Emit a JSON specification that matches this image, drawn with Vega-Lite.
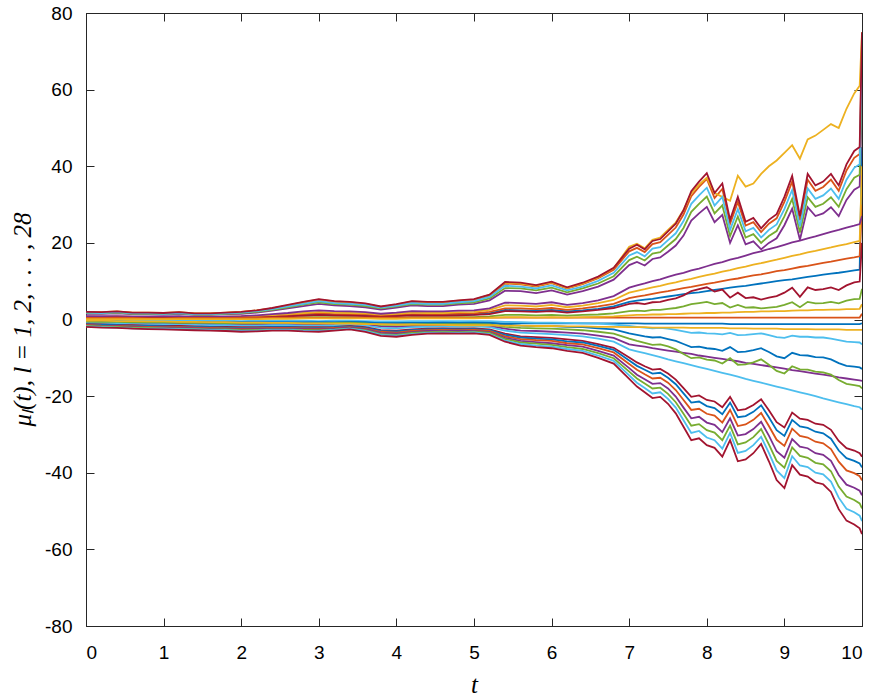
{
"$schema":"https://vega.github.io/schema/vega-lite/v6.json",
"width":776,"height":613,"autosize":"none",
"padding":{"left":86,"top":13,"right":11,"bottom":73},
"background":"white",
"data":{"values":[
{"t":0,"l1":0.5,"l2":1.9,"l3":2.0,"l4":1.5,"l5":1.7,"l6":1.8,"l7":2.0,"l8":-0.5,"l9":0.6,"l10":0.8,"l11":0.9,"l12":0.2,"l13":-0.2,"l14":0.4,"l15":-0.4,"l16":0.4,"l17":0.1,"l18":-0.8,"l19":-0.6,"l20":-1.0,"l21":-1.2,"l22":-1.3,"l23":-1.4,"l24":-0.3,"l25":-1.6,"l26":-1.7,"l27":-1.8,"l28":-1.9},
{"t":0.2,"l1":0.5,"l2":1.8,"l3":1.9,"l4":1.5,"l5":1.6,"l6":1.7,"l7":1.9,"l8":-0.6,"l9":0.6,"l10":0.7,"l11":0.9,"l12":0.2,"l13":-0.2,"l14":0.4,"l15":-0.5,"l16":0.4,"l17":0.1,"l18":-0.9,"l19":-0.7,"l20":-1.1,"l21":-1.3,"l22":-1.4,"l23":-1.6,"l24":-0.3,"l25":-1.7,"l26":-1.8,"l27":-2.0,"l28":-2.1},
{"t":0.4,"l1":0.5,"l2":2.0,"l3":2.1,"l4":1.6,"l5":1.8,"l6":1.9,"l7":2.1,"l8":-0.6,"l9":0.6,"l10":0.8,"l11":0.9,"l12":0.3,"l13":-0.2,"l14":0.5,"l15":-0.5,"l16":0.5,"l17":0.1,"l18":-0.9,"l19":-0.7,"l20":-1.1,"l21":-1.4,"l22":-1.5,"l23":-1.7,"l24":-0.4,"l25":-1.8,"l26":-1.9,"l27":-2.1,"l28":-2.2},
{"t":0.6,"l1":0.5,"l2":1.7,"l3":1.8,"l4":1.4,"l5":1.5,"l6":1.6,"l7":1.8,"l8":-0.7,"l9":0.5,"l10":0.7,"l11":0.8,"l12":0.2,"l13":-0.3,"l14":0.4,"l15":-0.6,"l16":0.4,"l17":0.1,"l18":-1.0,"l19":-0.8,"l20":-1.2,"l21":-1.5,"l22":-1.7,"l23":-1.8,"l24":-0.4,"l25":-2.0,"l26":-2.1,"l27":-2.3,"l28":-2.4},
{"t":0.8,"l1":0.5,"l2":1.7,"l3":1.8,"l4":1.4,"l5":1.5,"l6":1.6,"l7":1.8,"l8":-0.7,"l9":0.5,"l10":0.7,"l11":0.8,"l12":0.2,"l13":-0.3,"l14":0.4,"l15":-0.6,"l16":0.3,"l17":0.1,"l18":-1.1,"l19":-0.8,"l20":-1.3,"l21":-1.6,"l22":-1.7,"l23":-1.9,"l24":-0.5,"l25":-2.1,"l26":-2.2,"l27":-2.4,"l28":-2.5},
{"t":1.0,"l1":0.4,"l2":1.6,"l3":1.7,"l4":1.3,"l5":1.4,"l6":1.5,"l7":1.7,"l8":-0.7,"l9":0.5,"l10":0.6,"l11":0.8,"l12":0.2,"l13":-0.3,"l14":0.4,"l15":-0.6,"l16":0.3,"l17":0.1,"l18":-1.1,"l19":-0.8,"l20":-1.3,"l21":-1.7,"l22":-1.8,"l23":-2.0,"l24":-0.5,"l25":-2.1,"l26":-2.3,"l27":-2.4,"l28":-2.6},
{"t":1.2,"l1":0.5,"l2":1.8,"l3":1.9,"l4":1.5,"l5":1.6,"l6":1.7,"l7":1.9,"l8":-0.7,"l9":0.6,"l10":0.7,"l11":0.9,"l12":0.2,"l13":-0.3,"l14":0.4,"l15":-0.6,"l16":0.4,"l17":0.1,"l18":-1.1,"l19":-0.9,"l20":-1.4,"l21":-1.7,"l22":-1.9,"l23":-2.0,"l24":-0.6,"l25":-2.2,"l26":-2.4,"l27":-2.5,"l28":-2.7},
{"t":1.4,"l1":0.4,"l2":1.5,"l3":1.6,"l4":1.2,"l5":1.3,"l6":1.4,"l7":1.6,"l8":-0.8,"l9":0.5,"l10":0.6,"l11":0.7,"l12":0.2,"l13":-0.3,"l14":0.4,"l15":-0.6,"l16":0.4,"l17":0.1,"l18":-1.2,"l19":-0.9,"l20":-1.4,"l21":-1.8,"l22":-1.9,"l23":-2.1,"l24":-0.6,"l25":-2.3,"l26":-2.5,"l27":-2.6,"l28":-2.8},
{"t":1.6,"l1":0.4,"l2":1.5,"l3":1.6,"l4":1.2,"l5":1.3,"l6":1.4,"l7":1.6,"l8":-0.8,"l9":0.5,"l10":0.6,"l11":0.7,"l12":0.2,"l13":-0.3,"l14":0.4,"l15":-0.7,"l16":0.4,"l17":0.1,"l18":-1.2,"l19":-0.9,"l20":-1.5,"l21":-1.9,"l22":-2.0,"l23":-2.2,"l24":-0.7,"l25":-2.4,"l26":-2.6,"l27":-2.7,"l28":-2.9},
{"t":1.8,"l1":0.5,"l2":1.7,"l3":1.8,"l4":1.4,"l5":1.5,"l6":1.6,"l7":1.8,"l8":-0.8,"l9":0.5,"l10":0.7,"l11":0.8,"l12":0.2,"l13":-0.3,"l14":0.4,"l15":-0.7,"l16":0.4,"l17":0.1,"l18":-1.3,"l19":-1.0,"l20":-1.5,"l21":-1.9,"l22":-2.1,"l23":-2.3,"l24":-0.7,"l25":-2.5,"l26":-2.6,"l27":-2.8,"l28":-3.0},
{"t":2.0,"l1":0.5,"l2":1.9,"l3":2.0,"l4":1.5,"l5":1.7,"l6":1.8,"l7":2.0,"l8":-0.8,"l9":0.6,"l10":0.8,"l11":0.9,"l12":0.2,"l13":-0.4,"l14":0.4,"l15":-0.7,"l16":0.5,"l17":0.1,"l18":-1.3,"l19":-1.0,"l20":-1.6,"l21":-2.0,"l22":-2.2,"l23":-2.4,"l24":-0.8,"l25":-2.6,"l26":-2.8,"l27":-3.0,"l28":-3.2},
{"t":2.2,"l1":0.6,"l2":2.3,"l3":2.4,"l4":1.8,"l5":2.0,"l6":2.2,"l7":2.4,"l8":-0.8,"l9":0.7,"l10":0.9,"l11":1.1,"l12":0.3,"l13":-0.3,"l14":0.5,"l15":-0.7,"l16":0.5,"l17":0.1,"l18":-1.3,"l19":-1.0,"l20":-1.6,"l21":-2.0,"l22":-2.1,"l23":-2.3,"l24":-0.8,"l25":-2.5,"l26":-2.7,"l27":-2.9,"l28":-3.1},
{"t":2.4,"l1":0.8,"l2":2.9,"l3":2.9,"l4":2.3,"l5":2.5,"l6":2.7,"l7":3.0,"l8":-0.8,"l9":0.9,"l10":1.1,"l11":1.4,"l12":0.4,"l13":-0.3,"l14":0.7,"l15":-0.7,"l16":0.5,"l17":0.2,"l18":-1.2,"l19":-0.9,"l20":-1.5,"l21":-1.9,"l22":-2.0,"l23":-2.2,"l24":-0.9,"l25":-2.4,"l26":-2.6,"l27":-2.7,"l28":-2.9},
{"t":2.6,"l1":1.0,"l2":3.6,"l3":3.7,"l4":2.9,"l5":3.2,"l6":3.4,"l7":3.8,"l8":-0.8,"l9":1.1,"l10":1.4,"l11":1.7,"l12":0.5,"l13":-0.3,"l14":0.8,"l15":-0.7,"l16":0.5,"l17":0.2,"l18":-1.2,"l19":-0.9,"l20":-1.5,"l21":-1.9,"l22":-2.0,"l23":-2.2,"l24":-0.9,"l25":-2.4,"l26":-2.6,"l27":-2.7,"l28":-2.9},
{"t":2.8,"l1":1.2,"l2":4.4,"l3":4.5,"l4":3.5,"l5":3.9,"l6":4.1,"l7":4.6,"l8":-0.9,"l9":1.4,"l10":1.7,"l11":2.1,"l12":0.6,"l13":-0.3,"l14":1.0,"l15":-0.7,"l16":0.5,"l17":0.3,"l18":-1.3,"l19":-1.0,"l20":-1.6,"l21":-2.0,"l22":-2.1,"l23":-2.3,"l24":-1.0,"l25":-2.5,"l26":-2.7,"l27":-2.9,"l28":-3.1},
{"t":3.0,"l1":1.3,"l2":5.1,"l3":5.2,"l4":4.1,"l5":4.5,"l6":4.8,"l7":5.3,"l8":-0.9,"l9":1.6,"l10":2.0,"l11":2.4,"l12":0.6,"l13":-0.4,"l14":1.2,"l15":-0.7,"l16":0.5,"l17":0.3,"l18":-1.3,"l19":-1.0,"l20":-1.6,"l21":-2.0,"l22":-2.2,"l23":-2.4,"l24":-1.0,"l25":-2.6,"l26":-2.8,"l27":-3.0,"l28":-3.2},
{"t":3.2,"l1":1.2,"l2":4.6,"l3":4.7,"l4":3.7,"l5":4.0,"l6":4.3,"l7":4.8,"l8":-0.9,"l9":1.4,"l10":1.8,"l11":2.2,"l12":0.6,"l13":-0.3,"l14":1.1,"l15":-0.7,"l16":0.5,"l17":0.3,"l18":-1.2,"l19":-0.9,"l20":-1.5,"l21":-1.9,"l22":-2.0,"l23":-2.2,"l24":-1.1,"l25":-2.4,"l26":-2.6,"l27":-2.7,"l28":-2.9},
{"t":3.4,"l1":1.2,"l2":4.4,"l3":4.5,"l4":3.5,"l5":3.9,"l6":4.1,"l7":4.6,"l8":-0.9,"l9":1.4,"l10":1.7,"l11":2.1,"l12":0.6,"l13":-0.3,"l14":1.0,"l15":-0.6,"l16":0.5,"l17":0.3,"l18":-1.1,"l19":-0.8,"l20":-1.3,"l21":-1.7,"l22":-1.8,"l23":-2.0,"l24":-1.1,"l25":-2.1,"l26":-2.3,"l27":-2.4,"l28":-2.6},
{"t":3.6,"l1":1.1,"l2":4.0,"l3":4.1,"l4":3.2,"l5":3.5,"l6":3.8,"l7":4.2,"l8":-0.9,"l9":1.3,"l10":1.6,"l11":1.9,"l12":0.5,"l13":-0.4,"l14":0.9,"l15":-0.7,"l16":0.5,"l17":0.3,"l18":-1.3,"l19":-1.0,"l20":-1.6,"l21":-2.0,"l22":-2.2,"l23":-2.4,"l24":-1.2,"l25":-2.6,"l26":-2.8,"l27":-3.0,"l28":-3.2},
{"t":3.8,"l1":0.9,"l2":3.3,"l3":3.3,"l4":2.6,"l5":2.9,"l6":3.1,"l7":3.4,"l8":-0.9,"l9":1.0,"l10":1.3,"l11":1.5,"l12":0.4,"l13":-0.5,"l14":0.7,"l15":-1.0,"l16":0.5,"l17":0.2,"l18":-1.8,"l19":-1.4,"l20":-2.2,"l21":-2.8,"l22":-3.0,"l23":-3.2,"l24":-1.2,"l25":-3.5,"l26":-3.8,"l27":-4.0,"l28":-4.3},
{"t":4.0,"l1":1.0,"l2":3.8,"l3":3.9,"l4":3.1,"l5":3.4,"l6":3.6,"l7":4.0,"l8":-0.9,"l9":1.2,"l10":1.5,"l11":1.8,"l12":0.5,"l13":-0.5,"l14":0.9,"l15":-1.0,"l16":0.5,"l17":0.2,"l18":-1.9,"l19":-1.4,"l20":-2.3,"l21":-2.9,"l22":-3.1,"l23":-3.4,"l24":-1.3,"l25":-3.7,"l26":-4.0,"l27":-4.2,"l28":-4.5},
{"t":4.2,"l1":1.2,"l2":4.6,"l3":4.7,"l4":3.7,"l5":4.0,"l6":4.3,"l7":4.8,"l8":-0.9,"l9":1.4,"l10":1.8,"l11":2.2,"l12":0.6,"l13":-0.4,"l14":1.1,"l15":-0.9,"l16":0.5,"l17":0.3,"l18":-1.7,"l19":-1.3,"l20":-2.0,"l21":-2.6,"l22":-2.8,"l23":-3.0,"l24":-1.3,"l25":-3.3,"l26":-3.5,"l27":-3.8,"l28":-4.0},
{"t":4.4,"l1":1.2,"l2":4.4,"l3":4.5,"l4":3.5,"l5":3.9,"l6":4.1,"l7":4.6,"l8":-0.9,"l9":1.4,"l10":1.7,"l11":2.1,"l12":0.6,"l13":-0.4,"l14":1.0,"l15":-0.9,"l16":0.5,"l17":0.3,"l18":-1.6,"l19":-1.2,"l20":-1.9,"l21":-2.4,"l22":-2.6,"l23":-2.8,"l24":-1.4,"l25":-3.0,"l26":-3.3,"l27":-3.5,"l28":-3.7},
{"t":4.6,"l1":1.2,"l2":4.4,"l3":4.5,"l4":3.5,"l5":3.9,"l6":4.1,"l7":4.6,"l8":-0.9,"l9":1.4,"l10":1.7,"l11":2.1,"l12":0.6,"l13":-0.4,"l14":1.0,"l15":-0.8,"l16":0.5,"l17":0.3,"l18":-1.5,"l19":-1.2,"l20":-1.8,"l21":-2.3,"l22":-2.5,"l23":-2.7,"l24":-1.4,"l25":-3.0,"l26":-3.2,"l27":-3.4,"l28":-3.6},
{"t":4.8,"l1":1.3,"l2":4.8,"l3":4.9,"l4":3.9,"l5":4.2,"l6":4.5,"l7":5.0,"l8":-0.9,"l9":1.5,"l10":1.9,"l11":2.3,"l12":0.6,"l13":-0.4,"l14":1.1,"l15":-0.9,"l16":0.5,"l17":0.3,"l18":-1.6,"l19":-1.2,"l20":-1.9,"l21":-2.4,"l22":-2.6,"l23":-2.8,"l24":-1.5,"l25":-3.0,"l26":-3.3,"l27":-3.5,"l28":-3.7},
{"t":5.0,"l1":1.3,"l2":5.1,"l3":5.2,"l4":4.1,"l5":4.5,"l6":4.8,"l7":5.3,"l8":-0.9,"l9":1.6,"l10":2.0,"l11":2.4,"l12":0.6,"l13":-0.4,"l14":1.2,"l15":-0.8,"l16":0.5,"l17":0.3,"l18":-1.5,"l19":-1.2,"l20":-1.8,"l21":-2.3,"l22":-2.5,"l23":-2.7,"l24":-1.5,"l25":-3.0,"l26":-3.2,"l27":-3.4,"l28":-3.6},
{"t":5.2,"l1":1.6,"l2":6.2,"l3":6.4,"l4":5.0,"l5":5.5,"l6":5.9,"l7":6.5,"l8":-0.9,"l9":2.0,"l10":2.5,"l11":2.9,"l12":0.8,"l13":-0.4,"l14":1.4,"l15":-0.9,"l16":0.5,"l17":0.4,"l18":-1.7,"l19":-1.3,"l20":-2.0,"l21":-2.6,"l22":-2.8,"l23":-3.0,"l24":-1.5,"l25":-3.3,"l26":-3.5,"l27":-3.8,"l28":-4.0},
{"t":5.4,"l1":2.5,"l2":9.4,"l3":9.6,"l4":7.5,"l5":8.2,"l6":8.8,"l7":9.8,"l8":-1.0,"l9":2.9,"l10":3.7,"l11":4.4,"l12":1.2,"l13":-0.6,"l14":2.2,"l15":-1.3,"l16":0.5,"l17":0.6,"l18":-2.4,"l19":-1.9,"l20":-2.9,"l21":-3.7,"l22":-4.0,"l23":-4.4,"l24":-1.6,"l25":-4.8,"l26":-5.1,"l27":-5.5,"l28":-5.8},
{"t":5.6,"l1":2.4,"l2":9.2,"l3":9.4,"l4":7.4,"l5":8.1,"l6":8.6,"l7":9.6,"l8":-1.0,"l9":2.9,"l10":3.6,"l11":4.3,"l12":1.2,"l13":-0.7,"l14":2.1,"l15":-1.6,"l16":0.5,"l17":0.6,"l18":-2.9,"l19":-2.2,"l20":-3.4,"l21":-4.4,"l22":-4.7,"l23":-5.1,"l24":-1.6,"l25":-5.6,"l26":-6.0,"l27":-6.4,"l28":-6.8},
{"t":5.8,"l1":2.3,"l2":8.6,"l3":8.8,"l4":6.9,"l5":7.6,"l6":8.1,"l7":9.0,"l8":-1.0,"l9":2.7,"l10":3.4,"l11":4.1,"l12":1.1,"l13":-0.8,"l14":2.0,"l15":-1.7,"l16":0.5,"l17":0.5,"l18":-3.0,"l19":-2.3,"l20":-3.6,"l21":-4.6,"l22":-5.0,"l23":-5.4,"l24":-1.7,"l25":-5.9,"l26":-6.3,"l27":-6.8,"l28":-7.2},
{"t":6.0,"l1":2.5,"l2":9.5,"l3":9.7,"l4":7.6,"l5":8.3,"l6":8.9,"l7":9.9,"l8":-1.0,"l9":3.0,"l10":3.8,"l11":4.5,"l12":1.2,"l13":-0.8,"l14":2.2,"l15":-1.7,"l16":0.5,"l17":0.6,"l18":-3.2,"l19":-2.4,"l20":-3.8,"l21":-4.8,"l22":-5.2,"l23":-5.6,"l24":-1.7,"l25":-6.2,"l26":-6.6,"l27":-7.1,"l28":-7.5},
{"t":6.2,"l1":2.1,"l2":8.1,"l3":8.2,"l4":6.5,"l5":7.1,"l6":7.6,"l7":8.4,"l8":-1.0,"l9":2.5,"l10":3.2,"l11":3.8,"l12":1.0,"l13":-0.9,"l14":1.8,"l15":-1.9,"l16":0.5,"l17":0.5,"l18":-3.4,"l19":-2.6,"l20":-4.1,"l21":-5.2,"l22":-5.7,"l23":-6.2,"l24":-1.8,"l25":-6.7,"l26":-7.2,"l27":-7.7,"l28":-8.2},
{"t":6.4,"l1":2.4,"l2":9.2,"l3":9.4,"l4":7.4,"l5":8.1,"l6":8.6,"l7":9.6,"l8":-1.0,"l9":2.9,"l10":3.6,"l11":4.3,"l12":1.2,"l13":-1.0,"l14":2.1,"l15":-2.0,"l16":0.5,"l17":0.6,"l18":-3.7,"l19":-2.8,"l20":-4.4,"l21":-5.6,"l22":-6.0,"l23":-6.5,"l24":-1.8,"l25":-7.1,"l26":-7.7,"l27":-8.2,"l28":-8.7},
{"t":6.6,"l1":2.8,"l2":10.8,"l3":11.0,"l4":8.6,"l5":9.4,"l6":10.1,"l7":11.2,"l8":-1.0,"l9":3.4,"l10":4.3,"l11":5.0,"l12":1.3,"l13":-1.1,"l14":2.5,"l15":-2.3,"l16":0.5,"l17":0.7,"l18":-4.2,"l19":-3.2,"l20":-5.0,"l21":-6.4,"l22":-6.9,"l23":-7.5,"l24":-1.9,"l25":-8.2,"l26":-8.8,"l27":-9.4,"l28":-10.0},
{"t":6.8,"l1":3.4,"l2":13.0,"l3":13.4,"l4":10.4,"l5":11.3,"l6":12.2,"l7":13.5,"l8":-1.0,"l9":4.1,"l10":5.1,"l11":6.1,"l12":1.6,"l13":-1.3,"l14":3.0,"l15":-2.6,"l16":0.5,"l17":0.8,"l18":-4.8,"l19":-3.7,"l20":-5.8,"l21":-7.4,"l22":-7.9,"l23":-8.6,"l24":-1.9,"l25":-9.4,"l26":-10.1,"l27":-10.8,"l28":-11.5},
{"t":7.0,"l1":4.6,"l2":17.8,"l3":19.0,"l4":14.2,"l5":15.5,"l6":16.7,"l7":18.5,"l8":-1.0,"l9":5.6,"l10":7.0,"l11":8.3,"l12":2.2,"l13":-1.7,"l14":4.1,"l15":-3.6,"l16":0.5,"l17":1.1,"l18":-6.5,"l19":-5.0,"l20":-7.8,"l21":-9.9,"l22":-10.7,"l23":-11.6,"l24":-2.0,"l25":-12.7,"l26":-13.6,"l27":-14.6,"l28":-15.5},
{"t":7.1,"l1":4.9,"l2":18.7,"l3":19.8,"l4":15.0,"l5":16.4,"l6":17.6,"l7":19.5,"l8":-1.0,"l9":6.0,"l10":7.5,"l11":8.9,"l12":2.3,"l13":-1.9,"l14":4.3,"l15":-4.0,"l16":0.5,"l17":1.2,"l18":-6.8,"l19":-5.6,"l20":-8.3,"l21":-11.2,"l22":-12.1,"l23":-13.1,"l24":-2.0,"l25":-14.4,"l26":-15.4,"l27":-16.5,"l28":-17.5},
{"t":7.2,"l1":5.2,"l2":17.6,"l3":18.6,"l4":14.1,"l5":15.4,"l6":16.5,"l7":18.3,"l8":-1.1,"l9":6.3,"l10":7.9,"l11":9.4,"l12":2.2,"l13":-2.1,"l14":4.0,"l15":-4.4,"l16":0.5,"l17":1.2,"l18":-7.1,"l19":-6.1,"l20":-8.8,"l21":-12.2,"l22":-13.1,"l23":-14.3,"l24":-2.0,"l25":-15.6,"l26":-16.7,"l27":-17.9,"l28":-19.0},
{"t":7.3,"l1":5.4,"l2":19.7,"l3":20.8,"l4":15.8,"l5":17.2,"l6":18.5,"l7":20.5,"l8":-1.1,"l9":6.7,"l10":8.4,"l11":10.0,"l12":2.5,"l13":-2.3,"l14":4.5,"l15":-4.7,"l16":0.5,"l17":1.3,"l18":-7.5,"l19":-6.6,"l20":-9.3,"l21":-13.1,"l22":-14.1,"l23":-15.4,"l24":-2.1,"l25":-16.8,"l26":-18.0,"l27":-19.3,"l28":-20.5},
{"t":7.4,"l1":5.7,"l2":20.2,"l3":21.4,"l4":16.2,"l5":17.6,"l6":18.9,"l7":21.0,"l8":-1.1,"l9":7.1,"l10":8.8,"l11":10.5,"l12":2.5,"l13":-2.2,"l14":4.6,"l15":-4.6,"l16":0.5,"l17":1.3,"l18":-7.8,"l19":-6.5,"l20":-9.8,"l21":-12.9,"l22":-13.9,"l23":-15.2,"l24":-2.1,"l25":-16.6,"l26":-17.8,"l27":-19.0,"l28":-20.2},
{"t":7.5,"l1":6.0,"l2":22.1,"l3":23.4,"l4":17.7,"l5":19.3,"l6":20.7,"l7":23.0,"l8":-1.1,"l9":7.4,"l10":9.3,"l11":11.1,"l12":2.8,"l13":-2.4,"l14":5.1,"l15":-5.1,"l16":0.5,"l17":1.4,"l18":-8.1,"l19":-7.0,"l20":-10.4,"l21":-14.1,"l22":-15.2,"l23":-16.5,"l24":-2.1,"l25":-18.0,"l26":-19.4,"l27":-20.7,"l28":-22.0},
{"t":7.6,"l1":6.3,"l2":24.0,"l3":25.3,"l4":19.3,"l5":21.0,"l6":22.5,"l7":25.0,"l8":-1.1,"l9":7.8,"l10":9.7,"l11":11.7,"l12":3.0,"l13":-2.7,"l14":5.5,"l15":-5.6,"l16":0.5,"l17":1.4,"l18":-8.4,"l19":-7.8,"l20":-10.9,"l21":-15.7,"l22":-16.9,"l23":-18.4,"l24":-2.1,"l25":-20.1,"l26":-21.6,"l27":-23.0,"l28":-24.5},
{"t":7.7,"l1":6.6,"l2":27.4,"l3":28.6,"l4":21.9,"l5":23.9,"l6":25.7,"l7":28.5,"l8":-1.1,"l9":8.2,"l10":10.2,"l11":12.2,"l12":3.4,"l13":-3.1,"l14":6.3,"l15":-6.4,"l16":0.5,"l17":1.5,"l18":-8.7,"l19":-9.0,"l20":-11.4,"l21":-17.9,"l22":-19.3,"l23":-21.0,"l24":-2.1,"l25":-23.0,"l26":-24.6,"l27":-26.3,"l28":-28.0},
{"t":7.8,"l1":6.9,"l2":32.2,"l3":33.0,"l4":25.8,"l5":28.1,"l6":30.2,"l7":33.5,"l8":-1.1,"l9":8.5,"l10":10.6,"l11":12.8,"l12":4.0,"l13":-3.5,"l14":7.4,"l15":-7.2,"l16":0.5,"l17":1.6,"l18":-9.0,"l19":-10.1,"l20":-11.9,"l21":-20.2,"l22":-21.7,"l23":-23.6,"l24":-2.2,"l25":-25.8,"l26":-27.7,"l27":-29.6,"l28":-31.5},
{"t":7.9,"l1":7.1,"l2":34.6,"l3":35.2,"l4":27.7,"l5":30.2,"l6":32.4,"l7":36.0,"l8":-1.1,"l9":8.9,"l10":11.1,"l11":13.3,"l12":4.3,"l13":-3.4,"l14":7.9,"l15":-7.1,"l16":0.5,"l17":1.6,"l18":-9.4,"l19":-9.9,"l20":-12.4,"l21":-19.8,"l22":-21.4,"l23":-23.3,"l24":-2.2,"l25":-25.4,"l26":-27.3,"l27":-29.1,"l28":-31.0},
{"t":8.0,"l1":7.4,"l2":36.7,"l3":37.0,"l4":29.4,"l5":32.1,"l6":34.4,"l7":38.2,"l8":-1.1,"l9":9.3,"l10":11.6,"l11":13.9,"l12":4.6,"l13":-3.6,"l14":8.4,"l15":-7.5,"l16":0.5,"l17":1.7,"l18":-9.7,"l19":-10.5,"l20":-12.9,"l21":-21.0,"l22":-22.6,"l23":-24.6,"l24":-2.2,"l25":-26.9,"l26":-28.9,"l27":-30.8,"l28":-32.8},
{"t":8.1,"l1":7.7,"l2":31.7,"l3":33.0,"l4":25.4,"l5":27.7,"l6":29.7,"l7":33.0,"l8":-1.1,"l9":9.6,"l10":12.0,"l11":14.5,"l12":4.0,"l13":-3.7,"l14":7.3,"l15":-7.7,"l16":0.5,"l17":1.7,"l18":-10.0,"l19":-10.7,"l20":-13.4,"l21":-21.4,"l22":-23.1,"l23":-25.1,"l24":-2.2,"l25":-27.5,"l26":-29.5,"l27":-31.5,"l28":-33.5},
{"t":8.2,"l1":8.0,"l2":34.1,"l3":32.0,"l4":27.3,"l5":29.8,"l6":32.0,"l7":35.5,"l8":-1.1,"l9":10.0,"l10":12.5,"l11":15.0,"l12":4.3,"l13":-3.9,"l14":7.8,"l15":-8.2,"l16":0.5,"l17":1.8,"l18":-10.3,"l19":-11.5,"l20":-13.9,"l21":-22.9,"l22":-24.7,"l23":-26.9,"l24":-2.2,"l25":-29.4,"l26":-31.5,"l27":-33.7,"l28":-35.8},
{"t":8.3,"l1":8.3,"l2":25.0,"l3":31.0,"l4":20.0,"l5":21.8,"l6":23.4,"l7":26.0,"l8":-1.2,"l9":10.4,"l10":12.9,"l11":15.6,"l12":3.1,"l13":-3.5,"l14":5.7,"l15":-7.2,"l16":0.5,"l17":1.8,"l18":-10.6,"l19":-10.1,"l20":-14.4,"l21":-20.2,"l22":-21.7,"l23":-23.6,"l24":-2.3,"l25":-25.8,"l26":-27.7,"l27":-29.6,"l28":-31.5},
{"t":8.4,"l1":8.6,"l2":30.7,"l3":37.5,"l4":24.6,"l5":26.9,"l6":28.8,"l7":32.0,"l8":-1.2,"l9":10.7,"l10":13.4,"l11":16.1,"l12":3.8,"l13":-4.1,"l14":7.0,"l15":-8.5,"l16":0.5,"l17":1.9,"l18":-10.9,"l19":-11.8,"l20":-14.9,"l21":-23.7,"l22":-25.5,"l23":-27.8,"l24":-2.3,"l25":-30.3,"l26":-32.6,"l27":-34.8,"l28":-37.0},
{"t":8.5,"l1":8.8,"l2":24.5,"l3":34.7,"l4":19.6,"l5":21.4,"l6":23.0,"l7":25.5,"l8":-1.2,"l9":11.1,"l10":13.8,"l11":16.7,"l12":3.1,"l13":-4.0,"l14":5.6,"l15":-8.4,"l16":0.5,"l17":2.0,"l18":-11.3,"l19":-11.7,"l20":-15.5,"l21":-23.4,"l22":-25.2,"l23":-27.4,"l24":-2.3,"l25":-29.9,"l26":-32.1,"l27":-34.3,"l28":-36.5},
{"t":8.6,"l1":9.1,"l2":25.4,"l3":35.5,"l4":20.4,"l5":22.3,"l6":23.9,"l7":26.5,"l8":-1.2,"l9":11.5,"l10":14.3,"l11":17.3,"l12":3.2,"l13":-3.8,"l14":5.8,"l15":-8.0,"l16":0.5,"l17":2.0,"l18":-11.6,"l19":-11.2,"l20":-16.0,"l21":-22.3,"l22":-24.1,"l23":-26.2,"l24":-2.4,"l25":-28.6,"l26":-30.7,"l27":-32.8,"l28":-34.9},
{"t":8.7,"l1":9.4,"l2":22.8,"l3":38.0,"l4":18.3,"l5":20.0,"l6":21.4,"l7":23.8,"l8":-1.2,"l9":11.8,"l10":14.7,"l11":17.8,"l12":2.9,"l13":-3.6,"l14":5.2,"l15":-7.5,"l16":0.5,"l17":2.1,"l18":-11.9,"l19":-10.4,"l20":-16.5,"l21":-20.8,"l22":-22.4,"l23":-24.4,"l24":-2.4,"l25":-26.7,"l26":-28.6,"l27":-30.6,"l28":-32.5},
{"t":8.8,"l1":9.7,"l2":25.0,"l3":40.0,"l4":20.0,"l5":21.8,"l6":23.4,"l7":26.0,"l8":-1.2,"l9":12.2,"l10":15.2,"l11":18.4,"l12":3.1,"l13":-4.1,"l14":5.7,"l15":-8.5,"l16":0.5,"l17":2.1,"l18":-12.2,"l19":-11.8,"l20":-17.0,"l21":-23.7,"l22":-25.5,"l23":-27.8,"l24":-2.4,"l25":-30.3,"l26":-32.6,"l27":-34.8,"l28":-37.0},
{"t":8.9,"l1":10.0,"l2":26.4,"l3":41.5,"l4":21.2,"l5":23.1,"l6":24.8,"l7":27.5,"l8":-1.2,"l9":12.6,"l10":15.6,"l11":18.9,"l12":3.3,"l13":-4.6,"l14":6.1,"l15":-9.6,"l16":0.5,"l17":2.2,"l18":-12.5,"l19":-13.4,"l20":-17.5,"l21":-26.8,"l22":-28.9,"l23":-31.4,"l24":-2.4,"l25":-34.4,"l26":-36.9,"l27":-39.4,"l28":-41.9},
{"t":9.0,"l1":10.3,"l2":30.7,"l3":43.5,"l4":24.6,"l5":26.9,"l6":28.8,"l7":32.0,"l8":-1.2,"l9":12.9,"l10":16.1,"l11":19.5,"l12":3.8,"l13":-4.8,"l14":7.0,"l15":-10.1,"l16":0.5,"l17":2.2,"l18":-12.8,"l19":-14.1,"l20":-18.0,"l21":-28.2,"l22":-30.4,"l23":-33.0,"l24":-2.5,"l25":-36.1,"l26":-38.7,"l27":-41.4,"l28":-44.0},
{"t":9.1,"l1":10.5,"l2":36.0,"l3":45.5,"l4":28.9,"l5":31.5,"l6":33.8,"l7":37.5,"l8":-1.2,"l9":13.3,"l10":16.6,"l11":20.1,"l12":4.5,"l13":-4.2,"l14":8.3,"l15":-8.7,"l16":0.5,"l17":2.3,"l18":-13.2,"l19":-12.2,"l20":-18.5,"l21":-24.3,"l22":-26.2,"l23":-28.5,"l24":-2.5,"l25":-31.2,"l26":-33.4,"l27":-35.7,"l28":-38.0},
{"t":9.2,"l1":10.8,"l2":25.9,"l3":42.0,"l4":20.8,"l5":22.7,"l6":24.3,"l7":27.0,"l8":-1.2,"l9":13.7,"l10":17.0,"l11":20.6,"l12":3.2,"l13":-4.5,"l14":5.9,"l15":-9.3,"l16":0.5,"l17":2.4,"l18":-13.5,"l19":-13.0,"l20":-19.0,"l21":-25.9,"l22":-27.9,"l23":-30.4,"l24":-2.5,"l25":-33.2,"l26":-35.6,"l27":-38.1,"l28":-40.5},
{"t":9.3,"l1":11.1,"l2":36.5,"l3":47.0,"l4":29.3,"l5":31.9,"l6":34.2,"l7":38.0,"l8":-1.2,"l9":14.0,"l10":17.5,"l11":21.2,"l12":4.6,"l13":-4.5,"l14":8.4,"l15":-9.4,"l16":0.5,"l17":2.4,"l18":-13.8,"l19":-13.1,"l20":-19.5,"l21":-26.2,"l22":-28.3,"l23":-30.8,"l24":-2.5,"l25":-33.6,"l26":-36.1,"l27":-38.5,"l28":-41.0},
{"t":9.4,"l1":11.4,"l2":33.6,"l3":48.0,"l4":27.0,"l5":29.4,"l6":31.5,"l7":35.0,"l8":-1.2,"l9":14.4,"l10":17.9,"l11":21.7,"l12":4.2,"l13":-4.7,"l14":7.7,"l15":-9.8,"l16":0.5,"l17":2.5,"l18":-14.1,"l19":-13.6,"l20":-20.0,"l21":-27.2,"l22":-29.3,"l23":-31.9,"l24":-2.6,"l25":-34.9,"l26":-37.4,"l27":-40.0,"l28":-42.5},
{"t":9.5,"l1":11.7,"l2":34.6,"l3":49.5,"l4":27.7,"l5":30.2,"l6":32.4,"l7":36.0,"l8":-1.2,"l9":14.8,"l10":18.4,"l11":22.3,"l12":4.3,"l13":-4.7,"l14":7.9,"l15":-9.9,"l16":0.5,"l17":2.5,"l18":-14.4,"l19":-13.8,"l20":-20.6,"l21":-27.5,"l22":-29.7,"l23":-32.3,"l24":-2.6,"l25":-35.3,"l26":-37.8,"l27":-40.4,"l28":-43.0},
{"t":9.6,"l1":12.0,"l2":36.5,"l3":51.0,"l4":29.3,"l5":31.9,"l6":34.2,"l7":38.0,"l8":-1.2,"l9":15.1,"l10":18.8,"l11":22.9,"l12":4.6,"l13":-5.0,"l14":8.4,"l15":-10.4,"l16":0.5,"l17":2.6,"l18":-14.7,"l19":-14.4,"l20":-21.1,"l21":-28.8,"l22":-31.1,"l23":-33.8,"l24":-2.6,"l25":-36.9,"l26":-39.6,"l27":-42.3,"l28":-45.0},
{"t":9.7,"l1":12.2,"l2":33.6,"l3":50.0,"l4":27.0,"l5":29.4,"l6":31.5,"l7":35.0,"l8":-1.2,"l9":15.5,"l10":19.3,"l11":23.4,"l12":4.2,"l13":-5.4,"l14":7.7,"l15":-11.4,"l16":0.5,"l17":2.6,"l18":-15.1,"l19":-15.8,"l20":-21.6,"l21":-31.7,"l22":-34.2,"l23":-37.1,"l24":-2.6,"l25":-40.6,"l26":-43.6,"l27":-46.5,"l28":-49.5},
{"t":9.8,"l1":12.5,"l2":38.9,"l3":55.0,"l4":31.2,"l5":34.0,"l6":36.5,"l7":40.5,"l8":-1.2,"l9":15.9,"l10":19.7,"l11":24.0,"l12":4.9,"l13":-5.8,"l14":8.9,"l15":-12.1,"l16":0.5,"l17":2.7,"l18":-15.4,"l19":-16.8,"l20":-22.1,"l21":-33.6,"l22":-36.2,"l23":-39.4,"l24":-2.7,"l25":-43.1,"l26":-46.2,"l27":-49.4,"l28":-52.5},
{"t":9.9,"l1":12.8,"l2":42.2,"l3":59.0,"l4":33.9,"l5":37.0,"l6":39.6,"l7":44.0,"l8":-1.2,"l9":16.2,"l10":20.2,"l11":24.5,"l12":5.3,"l13":-5.9,"l14":9.7,"l15":-12.3,"l16":0.5,"l17":2.7,"l18":-15.7,"l19":-17.1,"l20":-22.6,"l21":-34.2,"l22":-36.9,"l23":-40.1,"l24":-2.7,"l25":-43.9,"l26":-47.1,"l27":-50.3,"l28":-53.5},
{"t":9.97,"l1":13.0,"l2":43.2,"l3":61.0,"l4":34.7,"l5":37.8,"l6":40.5,"l7":45.0,"l8":-1.2,"l9":16.5,"l10":20.5,"l11":24.9,"l12":5.4,"l13":-6.0,"l14":9.9,"l15":-12.5,"l16":0.5,"l17":2.8,"l18":-15.9,"l19":-17.4,"l20":-22.9,"l21":-34.9,"l22":-37.6,"l23":-40.9,"l24":-2.7,"l25":-44.7,"l26":-48.0,"l27":-51.2,"l28":-54.5},
{"t":10,"l1":45,"l2":73,"l3":75,"l4":58,"l5":65,"l6":70,"l7":75,"l8":-1.0,"l9":30,"l10":40,"l11":27,"l12":8,"l13":-6.5,"l14":20,"l15":-12.9,"l16":1.5,"l17":4,"l18":-16.0,"l19":-18.0,"l20":-23.5,"l21":-35.8,"l22":-38.6,"l23":-42.0,"l24":-2.7,"l25":-45.9,"l26":-49.3,"l27":-52.6,"l28":-56.0}
]},
"transform":[{"fold":["l1","l2","l3","l4","l5","l6","l7","l8","l9","l10","l11","l12","l13","l14","l15","l16","l17","l18","l19","l20","l21","l22","l23","l24","l25","l26","l27","l28"],"as":["line","v"]}],
"resolve":{"axis":{"x":"independent","y":"independent"}},
"layer":[
{
"mark":{"type":"line","strokeWidth":1.8,"clip":true},
"encoding":{
"x":{"field":"t","type":"quantitative","scale":{"domain":[0,10],"nice":false,"zero":false},
 "axis":{"values":[0,1,2,3,4,5,6,7,8,9,10],"labelPadding":25,"title":"t","titleFont":"Liberation Serif","titleFontStyle":"italic","titleFontWeight":"normal","titleFontSize":25,"titlePadding":10}},
"y":{"field":"v","type":"quantitative","scale":{"domain":[-80,80],"nice":false,"zero":false},
 "axis":{"values":[-80,-60,-40,-20,0,20,40,60,80],"labelPadding":22,"labelExpr":"replace(datum.label,'−','-')","title":"μₗ(t), l = 1, 2, . . . , 28","titleFont":"Liberation Serif","titleFontStyle":"italic","titleFontWeight":"normal","titleFontSize":25,"titleX":-64,"titleY":306,"titleAngle":-90,"titleAlign":"center","titleBaseline":"middle"}},
"color":{"field":"line","type":"nominal","legend":null,
 "scale":{"domain":["l1","l2","l3","l4","l5","l6","l7","l8","l9","l10","l11","l12","l13","l14","l15","l16","l17","l18","l19","l20","l21","l22","l23","l24","l25","l26","l27","l28"],
 "range":["#0072BD","#D95319","#EDB120","#7E2F8E","#77AC30","#4DBEEE","#A2142F","#0072BD","#D95319","#EDB120","#7E2F8E","#77AC30","#4DBEEE","#A2142F","#0072BD","#D95319","#EDB120","#7E2F8E","#77AC30","#4DBEEE","#A2142F","#0072BD","#D95319","#EDB120","#7E2F8E","#77AC30","#4DBEEE","#A2142F"]}}
}
},
{
"mark":{"type":"point","opacity":0},
"encoding":{
"x":{"field":"t","type":"quantitative","scale":{"domain":[0,10],"nice":false,"zero":false},
 "axis":{"orient":"top","values":[0,1,2,3,4,5,6,7,8,9,10],"labels":false,"title":null}},
"y":{"field":"v","type":"quantitative","scale":{"domain":[-80,80],"nice":false,"zero":false},
 "axis":{"orient":"right","values":[-80,-60,-40,-20,0,20,40,60,80],"labels":false,"title":null}}
}
}
],
"config":{
"view":{"stroke":"#262626","strokeWidth":1},
"axis":{"grid":false,"domainColor":"#262626","tickColor":"#262626","tickSize":-8,"tickWidth":1,"labelFont":"Liberation Sans","labelFontSize":19,"labelColor":"#000000","titleColor":"#000000","domainWidth":1}
}
}
